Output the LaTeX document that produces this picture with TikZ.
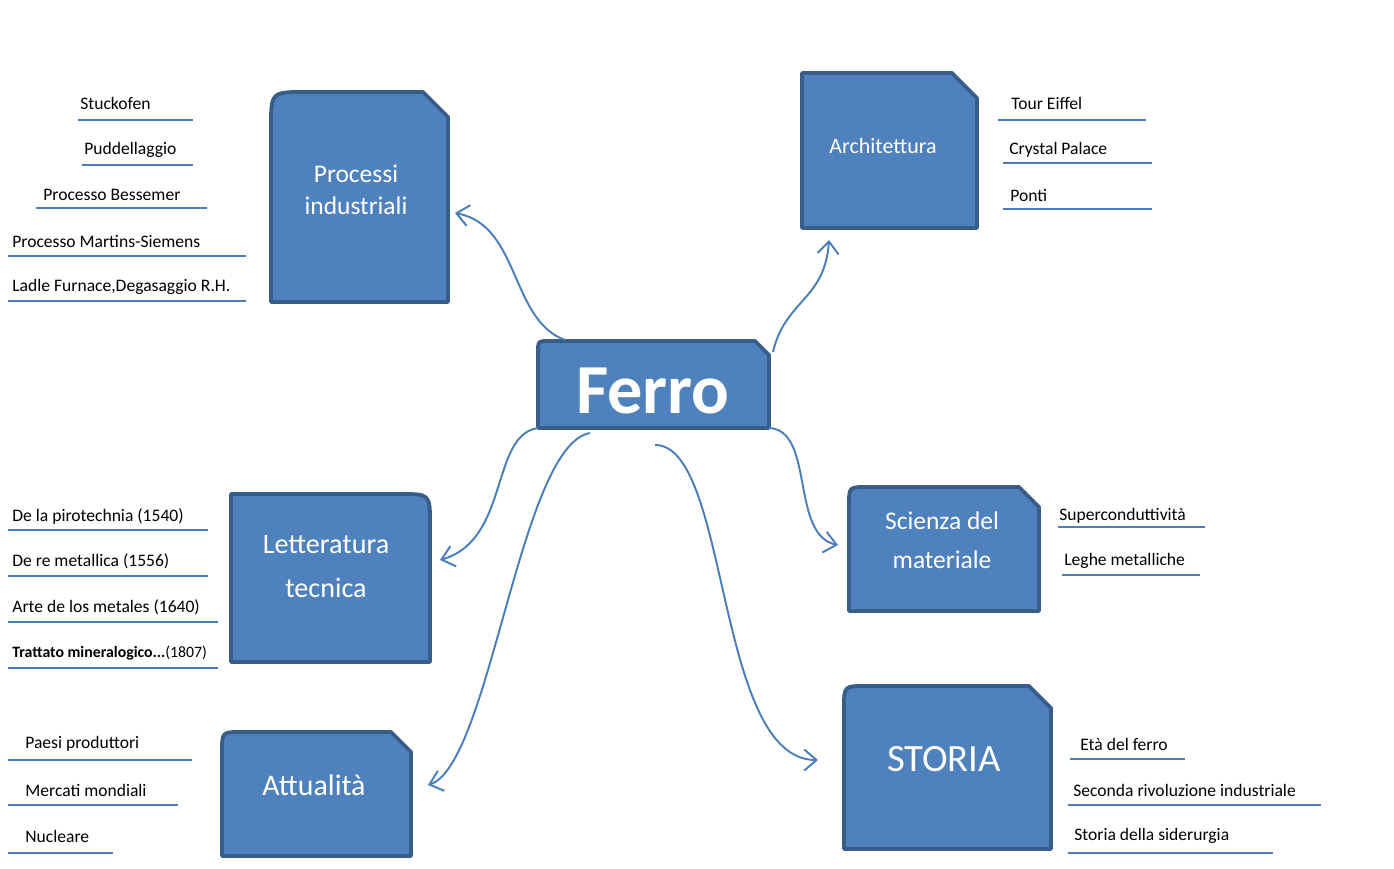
\documentclass[tikz,border=0pt]{standalone}
\usepackage{fontspec}
\setmainfont{Carlito}
\usetikzlibrary{arrows.meta}
\definecolor{bfill}{HTML}{4F81BD}
\definecolor{bline}{HTML}{385D8A}
\definecolor{cline}{HTML}{4A7EBB}
\newcommand{\shp}[6]{% x1 y1 x2 y2 r c
 \filldraw[bfill,draw=bline,line width=2.2pt,line join=round]
 (#1,#4) -- (#1,#2+#5) .. controls (#1,#2) .. (#1+#5,#2) -- (#3-#6,#2) -- (#3,#2+#6) -- (#3,#4) -- cycle;}
\newcommand{\shpb}[5]{% sharp TL, rounded TR
 \filldraw[bfill,draw=bline,line width=2.2pt,line join=round]
 (#1,#4) -- (#1,#2) -- (#3-#5,#2) .. controls (#3,#2) .. (#3,#2+#5) -- (#3,#4) -- cycle;}
\tikzset{
 lab/.style={anchor=west,inner sep=0pt,font=\fontsize{10}{12}\selectfont},
 ul/.style={cline,line width=1.2pt},
 con/.style={cline,line width=1.1pt,-{Straight Barb[length=7pt,width=12pt]}},
 bt/.style={white,align=center,inner sep=0pt}
}
\begin{document}
\begin{tikzpicture}[x=0.02cm,y=-0.02cm]
\useasboundingbox (0,0) rectangle (1394,869);
% boxes
\shp{271}{92}{448}{302}{35}{25}
\shp{802}{73}{977}{228}{0}{25}
\shp{538}{341}{769}{428}{12}{14}
\shpb{231}{494}{430}{662}{30}
\shp{849}{487}{1039}{611}{18}{20}
\shp{222}{732}{411}{856}{20}{20}
\shp{844}{686}{1051}{849}{22}{22}
\node[bt,font=\fontsize{14.5}{18}\selectfont] (proc) at (356,190) {Processi\\industriali};
\node[bt,font=\fontsize{12.5}{15}\selectfont] (arch) at (883,146) {Architettura};
\node[bt,font=\fontsize{40}{44}\selectfont\bfseries] (ferro) at (653,391) {Ferro};
\node[bt,font=\fontsize{16}{25}\selectfont] (lett) at (326,567) {Letteratura\\tecnica};
\node[bt,font=\fontsize{14.5}{22}\selectfont] (sci) at (942,540) {Scienza del\\materiale};
\node[bt,font=\fontsize{17}{20}\selectfont] (att) at (314,785) {Attualità};
\node[bt,font=\fontsize{22}{26}\selectfont] (sto) at (944,759) {STORIA};
% connector endpoints
\coordinate (f1) at (565,340); \coordinate (p1) at (455,213);
\coordinate (f2) at (773,352); \coordinate (a1) at (829,240);
\coordinate (f3) at (538,428); \coordinate (l1) at (440,560);
\coordinate (f4) at (590,433); \coordinate (t1) at (428,785);
\coordinate (f5) at (655,445); \coordinate (s1) at (818,760);
\coordinate (f6) at (769,428); \coordinate (c1) at (838,545);
\draw[con] (f1) .. controls (510,320) and (520,225) .. (p1);
\draw[con] (f2) .. controls (785,300) and (825,300) .. (a1);
\draw[con] (f3) .. controls (490,435) and (510,540) .. (l1);
\draw[con] (f4) .. controls (520,445) and (490,765) .. (t1);
\draw[con] (f5) .. controls (730,445) and (715,760) .. (s1);
\draw[con] (f6) .. controls (815,430) and (790,535) .. (c1);
% lists
\node[lab] (a) at (80,103) {Stuckofen}; \draw[ul] (78,120) -- (193,120);
\node[lab] (b) at (84,150) {Puddellaggio}; \draw[ul] (82,165) -- (193,165);
\node[lab] (c) at (43,195) {Processo Bessemer}; \draw[ul] (36,208) -- (207,208);
\node[lab] (d) at (12,241) {Processo Martins-Siemens}; \draw[ul] (8,256) -- (246,256);
\node[lab] (e) at (12,287) {Ladle Furnace,Degasaggio R.H.}; \draw[ul] (8,301) -- (246,301);
\node[lab] (g) at (1011,103) {Tour Eiffel}; \draw[ul] (998,120) -- (1146,120);
\node[lab] (h) at (1009,150) {Crystal Palace}; \draw[ul] (1003,163) -- (1152,163);
\node[lab] (i) at (1010,195) {Ponti}; \draw[ul] (1003,209) -- (1152,209);
\node[lab] (j) at (12,516) {De la pirotechnia (1540)}; \draw[ul] (8,530) -- (208,530);
\node[lab] (k) at (12,561) {De re metallica (1556)}; \draw[ul] (8,576) -- (208,576);
\node[lab] (l) at (12,607) {Arte de los metales (1640)}; \draw[ul] (8,622) -- (218,622);
\node[lab,font=\fontsize{9}{11}\selectfont\bfseries] (m) at (12,653) {Trattato mineralogico...\mdseries(1807)}; \draw[ul] (8,668) -- (218,668);
\node[lab] (n) at (25,744) {Paesi produttori}; \draw[ul] (8,760) -- (192,760);
\node[lab] (o) at (25,790) {Mercati mondiali}; \draw[ul] (8,805) -- (178,805);
\node[lab] (q) at (25,836) {Nucleare}; \draw[ul] (8,853) -- (113,853);
\node[lab] (r) at (1059,516) {Superconduttività}; \draw[ul] (1058,527) -- (1205,527);
\node[lab] (s) at (1064,561) {Leghe metalliche}; \draw[ul] (1062,575) -- (1200,575);
\node[lab] (t) at (1080,744) {Età del ferro}; \draw[ul] (1070,759) -- (1185,759);
\node[lab] (u) at (1073,790) {Seconda rivoluzione industriale}; \draw[ul] (1068,805) -- (1321,805);
\node[lab] (v) at (1074,836) {Storia della siderurgia}; \draw[ul] (1068,853) -- (1273,853);
\end{tikzpicture}
\end{document}
